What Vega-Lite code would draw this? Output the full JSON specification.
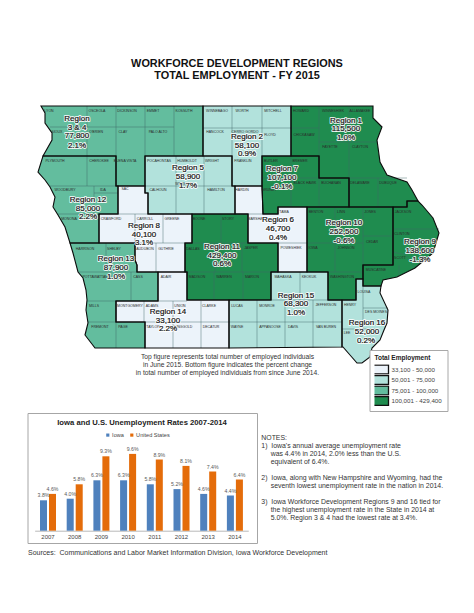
{
  "$schema": "https://vega.github.io/schema/vega-lite/v6.json",
  "width": 474,
  "height": 613,
  "padding": 0,
  "autosize": "none",
  "background": "white",
  "config": {"view": {"stroke": null}, "font": "Liberation Sans", "text": {"font": "Liberation Sans"}},
  "title": {"text": ["WORKFORCE DEVELOPMENT REGIONS", "TOTAL EMPLOYMENT - FY 2015"], "anchor": "start", "frame": "group", "dx": 237, "align": "center", "offset": -81, "font": "Liberation Sans", "fontSize": 10.9, "fontWeight": "bold", "color": "#111", "lineHeight": 12},
  "projection": {"type": "identity", "scale": 1, "translate": [0, 0]},
  "datasets": {
    "regions": [
      {"type": "Feature", "properties": {"region": "Region 3 & 4", "band": "75,001 - 100,000"}, "geometry": {"type": "Polygon", "coordinates": [[[41,106],[203,106],[203,156],[145,156],[145,186],[116,186],[116,156],[43,156],[52,140],[52,133],[45,123],[45,113],[41,106]]]}},
      {"type": "Feature", "properties": {"region": "Region 12", "band": "75,001 - 100,000"}, "geometry": {"type": "Polygon", "coordinates": [[[43,156],[116,156],[116,186],[118,186],[118,214],[99,214],[99,243],[70,243],[65,227],[58,215],[53,207],[55,197],[50,187],[45,180],[38,172],[43,156]]]}},
      {"type": "Feature", "properties": {"region": "Region 13", "band": "75,001 - 100,000"}, "geometry": {"type": "Polygon", "coordinates": [[[70,243],[135,243],[135,260],[137,265],[137,272],[158,272],[158,301],[116,301],[116,322],[145,322],[145,348],[95,348],[85,335],[88,323],[86,310],[87,300],[86,290],[83,278],[78,272],[73,253],[70,243]]]}},
      {"type": "Feature", "properties": {"region": "Region 2", "band": "50,001 - 75,000"}, "geometry": {"type": "Polygon", "coordinates": [[[203,106],[291,106],[291,156],[262,156],[262,186],[232,186],[232,156],[203,156],[203,106]]]}},
      {"type": "Feature", "properties": {"region": "Region 5", "band": "50,001 - 75,000"}, "geometry": {"type": "Polygon", "coordinates": [[[145,156],[232,156],[232,186],[235,186],[235,214],[148,214],[148,193],[145,193],[145,156]]]}},
      {"type": "Feature", "properties": {"region": "Region 15", "band": "50,001 - 75,000"}, "geometry": {"type": "Polygon", "coordinates": [[[271,272],[328,272],[328,300],[342,300],[342,347],[229,348],[229,300],[271,300],[271,272]]]}},
      {"type": "Feature", "properties": {"region": "Region 16", "band": "50,001 - 75,000"}, "geometry": {"type": "Polygon", "coordinates": [[[342,300],[356,300],[356,279],[363,279],[363,286],[381,286],[380,293],[388,310],[387,323],[384,330],[380,340],[372,348],[370,357],[362,363],[357,363],[350,355],[343,347],[342,347],[342,300]]]}},
      {"type": "Feature", "properties": {"region": "Region 6", "band": "33,100 - 50,000"}, "geometry": {"type": "Polygon", "coordinates": [[[235,186],[262,186],[263,214],[278,214],[278,207],[307,207],[307,272],[278,272],[278,243],[248,243],[248,214],[235,214],[235,186]]]}},
      {"type": "Feature", "properties": {"region": "Region 8", "band": "33,100 - 50,000"}, "geometry": {"type": "Polygon", "coordinates": [[[118,186],[145,186],[145,193],[148,193],[148,214],[192,214],[192,243],[185,243],[185,272],[137,272],[137,265],[135,260],[135,243],[99,243],[99,214],[118,214],[118,186]]]}},
      {"type": "Feature", "properties": {"region": "Region 14", "band": "33,100 - 50,000"}, "geometry": {"type": "Polygon", "coordinates": [[[158,272],[187,272],[187,300],[229,300],[229,348],[145,348],[145,322],[116,322],[116,301],[158,301],[158,272]]]}},
      {"type": "Feature", "properties": {"region": "Region 1", "band": "100,001 - 429,400"}, "geometry": {"type": "Polygon", "coordinates": [[[291,106],[373,106],[373,118],[382,127],[377,140],[380,162],[387,175],[407,182],[412,190],[418,201],[407,201],[407,207],[349,207],[349,178],[319,178],[319,156],[291,156],[291,106]]]}},
      {"type": "Feature", "properties": {"region": "Region 7", "band": "100,001 - 429,400"}, "geometry": {"type": "Polygon", "coordinates": [[[262,156],[319,156],[319,178],[349,178],[349,207],[278,207],[278,214],[263,214],[262,186],[262,156]]]}},
      {"type": "Feature", "properties": {"region": "Region 9", "band": "100,001 - 429,400"}, "geometry": {"type": "Polygon", "coordinates": [[[393,207],[407,207],[407,201],[418,201],[422,205],[433,218],[439,233],[433,253],[415,268],[397,277],[383,280],[381,286],[363,286],[363,265],[393,265],[393,207]]]}},
      {"type": "Feature", "properties": {"region": "Region 10", "band": "100,001 - 429,400"}, "geometry": {"type": "Polygon", "coordinates": [[[307,207],[393,207],[393,265],[363,265],[363,279],[356,279],[356,300],[328,300],[328,272],[307,272],[307,207]]]}},
      {"type": "Feature", "properties": {"region": "Region 11", "band": "100,001 - 429,400"}, "geometry": {"type": "Polygon", "coordinates": [[[192,214],[248,214],[248,243],[278,243],[278,272],[271,272],[271,300],[187,300],[187,272],[185,272],[185,243],[192,243],[192,214]]]}}
    ],
    "countyLines": [
      {"type": "Feature", "properties": {"region": "Region 3 & 4"}, "geometry": {"type": "MultiLineString", "coordinates": [[[87,106],[87,156]],[[116,106],[116,156]],[[145,106],[145,156]],[[174,106],[174,156]],[[50,127],[174,127]]]}},
      {"type": "Feature", "properties": {"region": "Region 12"}, "geometry": {"type": "MultiLineString", "coordinates": [[[87,156],[87,186]],[[50,186],[118,186]],[[94,186],[94,214]],[[94,193],[118,193]],[[58,214],[99,214]]]}},
      {"type": "Feature", "properties": {"region": "Region 13"}, "geometry": {"type": "MultiLineString", "coordinates": [[[106,243],[106,272]],[[78,272],[137,272]],[[131,272],[131,301]],[[87,301],[116,301]],[[88,322],[116,322]],[[116,301],[116,348]]]}},
      {"type": "Feature", "properties": {"region": "Region 2"}, "geometry": {"type": "MultiLineString", "coordinates": [[[232,106],[232,156]],[[262,106],[262,156]],[[203,128],[291,128]]]}},
      {"type": "Feature", "properties": {"region": "Region 5"}, "geometry": {"type": "MultiLineString", "coordinates": [[[176,156],[176,214]],[[204,156],[204,214]],[[145,186],[232,186]]]}},
      {"type": "Feature", "properties": {"region": "Region 15"}, "geometry": {"type": "MultiLineString", "coordinates": [[[300,272],[300,300]],[[257,300],[257,348]],[[285,300],[285,348]],[[313,300],[313,348]],[[229,322],[342,322]],[[271,300],[342,300]]]}},
      {"type": "Feature", "properties": {"region": "Region 16"}, "geometry": {"type": "MultiLineString", "coordinates": [[[363,286],[363,332]],[[363,308],[388,308]],[[342,329],[375,329]]]}},
      {"type": "Feature", "properties": {"region": "Region 6"}, "geometry": {"type": "MultiLineString", "coordinates": [[[235,214],[263,214]],[[278,243],[307,243]]]}},
      {"type": "Feature", "properties": {"region": "Region 8"}, "geometry": {"type": "MultiLineString", "coordinates": [[[135,214],[135,243]],[[163,214],[163,243]],[[156,243],[156,272]],[[135,243],[185,243]],[[118,214],[148,214]]]}},
      {"type": "Feature", "properties": {"region": "Region 14"}, "geometry": {"type": "MultiLineString", "coordinates": [[[144,301],[144,322]],[[173,301],[173,348]],[[201,301],[201,348]],[[145,322],[229,322]],[[158,301],[187,301]]]}},
      {"type": "Feature", "properties": {"region": "Region 1"}, "geometry": {"type": "MultiLineString", "coordinates": [[[319,106],[319,156]],[[349,106],[349,125]],[[291,128],[319,128]],[[319,142],[377,142]],[[349,142],[349,207]],[[349,178],[407,178]],[[378,178],[378,207]]]}},
      {"type": "Feature", "properties": {"region": "Region 7"}, "geometry": {"type": "MultiLineString", "coordinates": [[[291,156],[291,207]],[[263,178],[319,178]],[[319,178],[319,207]]]}},
      {"type": "Feature", "properties": {"region": "Region 9"}, "geometry": {"type": "MultiLineString", "coordinates": [[[393,229],[439,229]],[[393,252],[406,255],[415,268]],[[399,265],[399,275]]]}},
      {"type": "Feature", "properties": {"region": "Region 10"}, "geometry": {"type": "MultiLineString", "coordinates": [[[335,207],[335,272]],[[363,207],[363,265]],[[307,243],[363,243]],[[363,236],[393,236]],[[328,272],[363,272]]]}},
      {"type": "Feature", "properties": {"region": "Region 11"}, "geometry": {"type": "MultiLineString", "coordinates": [[[221,214],[221,243]],[[192,243],[248,243]],[[215,243],[215,272]],[[242,243],[242,272]],[[185,272],[278,272]],[[214,272],[214,300]],[[243,272],[243,300]]]}}
    ],
    "frame": [
      {"type": "Feature", "properties": {"name": "chart frame"}, "geometry": {"type": "Polygon", "coordinates": [[[28,413.5],[257.5,413.5],[257.5,543.5],[28,543.5],[28,413.5]]]}}
    ],
    "countyNames": [
      {"name": "LYON", "mapX": 49, "mapY": 111}, {"name": "OSCEOLA", "mapX": 97, "mapY": 111}, {"name": "DICKINSON", "mapX": 127, "mapY": 111}, {"name": "EMMET", "mapX": 153, "mapY": 111}, {"name": "KOSSUTH", "mapX": 184, "mapY": 111}, {"name": "WINNEBAGO", "mapX": 217, "mapY": 111},
      {"name": "WORTH", "mapX": 242, "mapY": 111}, {"name": "MITCHELL", "mapX": 273, "mapY": 111}, {"name": "HOWARD", "mapX": 301, "mapY": 111}, {"name": "WINNESHIEK", "mapX": 333, "mapY": 111}, {"name": "ALLAMAKEE", "mapX": 360, "mapY": 111},
      {"name": "SIOUX", "mapX": 57, "mapY": 132}, {"name": "O'BRIEN", "mapX": 96, "mapY": 132}, {"name": "CLAY", "mapX": 123, "mapY": 132}, {"name": "PALO ALTO", "mapX": 158, "mapY": 132}, {"name": "HANCOCK", "mapX": 215, "mapY": 132}, {"name": "CERRO GORDO", "mapX": 245, "mapY": 132},
      {"name": "FLOYD", "mapX": 270, "mapY": 135}, {"name": "CHICKASAW", "mapX": 304, "mapY": 135}, {"name": "FAYETTE", "mapX": 330, "mapY": 147}, {"name": "CLAYTON", "mapX": 360, "mapY": 147},
      {"name": "PLYMOUTH", "mapX": 55, "mapY": 161}, {"name": "CHEROKEE", "mapX": 99, "mapY": 161}, {"name": "BUENA VISTA", "mapX": 125, "mapY": 161}, {"name": "POCAHONTAS", "mapX": 159, "mapY": 161}, {"name": "HUMBOLDT", "mapX": 187, "mapY": 161}, {"name": "WRIGHT", "mapX": 212, "mapY": 161}, {"name": "FRANKLIN", "mapX": 243, "mapY": 161}, {"name": "BUTLER", "mapX": 271, "mapY": 161}, {"name": "BREMER", "mapX": 300, "mapY": 161},
      {"name": "BLACK HAWK", "mapX": 305, "mapY": 183}, {"name": "BUCHANAN", "mapX": 331, "mapY": 183}, {"name": "DELAWARE", "mapX": 360, "mapY": 183}, {"name": "DUBUQUE", "mapX": 388, "mapY": 183},
      {"name": "WOODBURY", "mapX": 65, "mapY": 190}, {"name": "IDA", "mapX": 103, "mapY": 190}, {"name": "SAC", "mapX": 125, "mapY": 189}, {"name": "CALHOUN", "mapX": 158, "mapY": 190}, {"name": "WEBSTER", "mapX": 184, "mapY": 184}, {"name": "HAMILTON", "mapX": 216, "mapY": 190}, {"name": "HARDIN", "mapX": 242, "mapY": 190}, {"name": "GRUNDY", "mapX": 269, "mapY": 190},
      {"name": "TAMA", "mapX": 284, "mapY": 212}, {"name": "BENTON", "mapX": 316, "mapY": 212}, {"name": "LINN", "mapX": 341, "mapY": 212}, {"name": "JONES", "mapX": 370, "mapY": 212}, {"name": "JACKSON", "mapX": 403, "mapY": 212},
      {"name": "MONONA", "mapX": 69, "mapY": 219}, {"name": "CRAWFORD", "mapX": 111, "mapY": 219}, {"name": "CARROLL", "mapX": 145, "mapY": 219}, {"name": "GREENE", "mapX": 172, "mapY": 219}, {"name": "BOONE", "mapX": 199, "mapY": 219}, {"name": "STORY", "mapX": 228, "mapY": 219}, {"name": "MARSHALL", "mapX": 257, "mapY": 219},
      {"name": "CLINTON", "mapX": 402, "mapY": 234}, {"name": "CEDAR", "mapX": 372, "mapY": 242},
      {"name": "HARRISON", "mapX": 85, "mapY": 249}, {"name": "SHELBY", "mapX": 114, "mapY": 249}, {"name": "AUDUBON", "mapX": 145, "mapY": 249}, {"name": "GUTHRIE", "mapX": 166, "mapY": 249}, {"name": "DALLAS", "mapX": 193, "mapY": 249}, {"name": "JASPER", "mapX": 251, "mapY": 248}, {"name": "POWESHIEK", "mapX": 291, "mapY": 248}, {"name": "IOWA", "mapX": 313, "mapY": 248}, {"name": "JOHNSON", "mapX": 346, "mapY": 248}, {"name": "SCOTT", "mapX": 400, "mapY": 258},
      {"name": "MUSCATINE", "mapX": 376, "mapY": 270},
      {"name": "POTTAWATTAMIE", "mapX": 97, "mapY": 277}, {"name": "CASS", "mapX": 138, "mapY": 277}, {"name": "ADAIR", "mapX": 166, "mapY": 277}, {"name": "MADISON", "mapX": 197, "mapY": 277}, {"name": "WARREN", "mapX": 224, "mapY": 277}, {"name": "MARION", "mapX": 252, "mapY": 277}, {"name": "MAHASKA", "mapX": 283, "mapY": 277}, {"name": "KEOKUK", "mapX": 309, "mapY": 277}, {"name": "WASHINGTON", "mapX": 342, "mapY": 277},
      {"name": "LOUISA", "mapX": 364, "mapY": 292},
      {"name": "MILLS", "mapX": 94, "mapY": 306}, {"name": "MONTGOMERY", "mapX": 130, "mapY": 306}, {"name": "ADAMS", "mapX": 152, "mapY": 306}, {"name": "UNION", "mapX": 180, "mapY": 306}, {"name": "CLARKE", "mapX": 209, "mapY": 306}, {"name": "LUCAS", "mapX": 237, "mapY": 306}, {"name": "MONROE", "mapX": 267, "mapY": 306}, {"name": "JEFFERSON", "mapX": 326, "mapY": 305}, {"name": "HENRY", "mapX": 350, "mapY": 305}, {"name": "DES MOINES", "mapX": 376, "mapY": 312},
      {"name": "FREMONT", "mapX": 100, "mapY": 327}, {"name": "PAGE", "mapX": 123, "mapY": 327}, {"name": "TAYLOR", "mapX": 153, "mapY": 327}, {"name": "RINGGOLD", "mapX": 183, "mapY": 327}, {"name": "DECATUR", "mapX": 211, "mapY": 327}, {"name": "WAYNE", "mapX": 237, "mapY": 327}, {"name": "APPANOOSE", "mapX": 270, "mapY": 327}, {"name": "DAVIS", "mapX": 293, "mapY": 327}, {"name": "VAN BUREN", "mapX": 326, "mapY": 327}, {"name": "LEE", "mapX": 347, "mapY": 333}
    ],
    "regionLabels": [
      {"label": "Region", "mapX": 77, "mapY": 119}, {"label": "3 & 4", "mapX": 77, "mapY": 127.5}, {"label": "77,800", "mapX": 77, "mapY": 136}, {"label": "2.1%", "mapX": 77, "mapY": 146},
      {"label": "Region 12", "mapX": 88, "mapY": 200}, {"label": "85,000", "mapX": 88, "mapY": 209}, {"label": "2.2%", "mapX": 88, "mapY": 217},
      {"label": "Region 5", "mapX": 188, "mapY": 168}, {"label": "58,900", "mapX": 188, "mapY": 177}, {"label": "1.7%", "mapX": 188, "mapY": 186},
      {"label": "Region 2", "mapX": 247, "mapY": 137}, {"label": "58,100", "mapX": 247, "mapY": 146}, {"label": "0.9%", "mapX": 247, "mapY": 154},
      {"label": "Region 1", "mapX": 346, "mapY": 121}, {"label": "115,500", "mapX": 346, "mapY": 129}, {"label": "1.0%", "mapX": 346, "mapY": 138},
      {"label": "Region 7", "mapX": 282, "mapY": 169}, {"label": "107,100", "mapX": 282, "mapY": 178}, {"label": "-0.1%", "mapX": 282, "mapY": 187},
      {"label": "Region 8", "mapX": 144, "mapY": 226}, {"label": "40,100", "mapX": 144, "mapY": 235}, {"label": "3.1%", "mapX": 144, "mapY": 243},
      {"label": "Region 6", "mapX": 278, "mapY": 220}, {"label": "46,700", "mapX": 278, "mapY": 229}, {"label": "0.4%", "mapX": 278, "mapY": 238},
      {"label": "Region 10", "mapX": 344, "mapY": 223}, {"label": "252,500", "mapX": 344, "mapY": 232}, {"label": "-0.6%", "mapX": 344, "mapY": 241},
      {"label": "Region 11", "mapX": 222, "mapY": 247}, {"label": "429,400", "mapX": 222, "mapY": 256}, {"label": "0.6%", "mapX": 222, "mapY": 264},
      {"label": "Region 9", "mapX": 420, "mapY": 242}, {"label": "138,600", "mapX": 420, "mapY": 251}, {"label": "-1.3%", "mapX": 420, "mapY": 260},
      {"label": "Region 13", "mapX": 116, "mapY": 259}, {"label": "87,900", "mapX": 116, "mapY": 268}, {"label": "1.0%", "mapX": 116, "mapY": 277},
      {"label": "Region 14", "mapX": 168, "mapY": 312}, {"label": "33,100", "mapX": 168, "mapY": 321}, {"label": "2.2%", "mapX": 168, "mapY": 329},
      {"label": "Region 15", "mapX": 296, "mapY": 296}, {"label": "68,300", "mapX": 296, "mapY": 304}, {"label": "1.0%", "mapX": 296, "mapY": 313},
      {"label": "Region 16", "mapX": 367, "mapY": 323}, {"label": "52,000", "mapX": 367, "mapY": 332}, {"label": "0.2%", "mapX": 366, "mapY": 341}
    ],
    "caption": [
      {"line": "Top figure represents total number of employed individuals", "mapX": 227.5, "mapY": 356.7},
      {"line": "in June 2015. Bottom figure indicates the percent change", "mapX": 227.5, "mapY": 365},
      {"line": "in total number of employed individuals from since June 2014.", "mapX": 227.5, "mapY": 373}
    ],
    "notes": [
      {"line": "NOTES:", "mapX": 261.3, "mapY": 437.7},
      {"line": "1)", "mapX": 261.3, "mapY": 445.7},
      {"line": "Iowa's annual average unemployment rate", "mapX": 271.3, "mapY": 445.7},
      {"line": "was 4.4% in 2014, 2.0% less than the U.S.", "mapX": 270.7, "mapY": 453.7},
      {"line": "equivalent of 6.4%.", "mapX": 270.7, "mapY": 461.7},
      {"line": "2)", "mapX": 261.3, "mapY": 477.7},
      {"line": "Iowa, along with New Hampshire and Wyoming, had the", "mapX": 271.3, "mapY": 477.7},
      {"line": "seventh lowest unemployment rate in the nation in 2014.", "mapX": 270.7, "mapY": 485.7},
      {"line": "3)", "mapX": 261.3, "mapY": 501.7},
      {"line": "Iowa Workforce Development Regions 9 and 16 tied for", "mapX": 271.3, "mapY": 501.7},
      {"line": "the highest unemployment rate in the State in 2014 at", "mapX": 270.7, "mapY": 509.7},
      {"line": "5.0%. Region 3 & 4 had the lowest rate at 3.4%.", "mapX": 270.7, "mapY": 517.7}
    ],
    "sources": [
      {"line": "Sources:\u00a0 Communications and Labor Market Information Division, Iowa Workforce Development", "mapX": 28, "mapY": 553}
    ],
    "chartTitle": [
      {"line": "Iowa and U.S. Unemployment Rates 2007-2014", "mapX": 142, "mapY": 422.7}
    ],
    "rates": [
      {"year": "2007", "series": "Iowa", "rate": 3.8, "label": "3.8%"}, {"year": "2007", "series": "United States", "rate": 4.6, "label": "4.6%"},
      {"year": "2008", "series": "Iowa", "rate": 4.0, "label": "4.0%"}, {"year": "2008", "series": "United States", "rate": 5.8, "label": "5.8%"},
      {"year": "2009", "series": "Iowa", "rate": 6.3, "label": "6.3%"}, {"year": "2009", "series": "United States", "rate": 9.3, "label": "9.3%"},
      {"year": "2010", "series": "Iowa", "rate": 6.3, "label": "6.3%"}, {"year": "2010", "series": "United States", "rate": 9.6, "label": "9.6%"},
      {"year": "2011", "series": "Iowa", "rate": 5.8, "label": "5.8%"}, {"year": "2011", "series": "United States", "rate": 8.9, "label": "8.9%"},
      {"year": "2012", "series": "Iowa", "rate": 5.2, "label": "5.2%"}, {"year": "2012", "series": "United States", "rate": 8.1, "label": "8.1%"},
      {"year": "2013", "series": "Iowa", "rate": 4.6, "label": "4.6%"}, {"year": "2013", "series": "United States", "rate": 7.4, "label": "7.4%"},
      {"year": "2014", "series": "Iowa", "rate": 4.4, "label": "4.4%"}, {"year": "2014", "series": "United States", "rate": 6.4, "label": "6.4%"}
    ]
  },
  "layer": [
    {
      "data": {"name": "regions"},
      "mark": {"type": "geoshape", "strokeWidth": 0},
      "encoding": {
        "fill": {
          "field": "properties.band",
          "type": "nominal",
          "scale": {"domain": ["33,100 - 50,000", "50,001 - 75,000", "75,001 - 100,000", "100,001 - 429,400"], "range": ["#ecf3fa", "#b2e2dc", "#63bd9e", "#1f8c4f"]},
          "legend": {"title": "Total Employment", "orient": "none", "legendX": 369.5, "legendY": 350, "padding": 5, "strokeColor": "#a8a8a8", "fillColor": "white", "titleFont": "Liberation Sans", "titleFontSize": 6.5, "titleFontWeight": "bold", "titleColor": "#222", "titlePadding": 3, "labelFont": "Liberation Sans", "labelFontSize": 6.2, "labelColor": "#444", "labelOffset": 5, "rowPadding": 0.5, "clipHeight": 10, "symbolType": "M-1.6,-0.9H1.6V0.9H-1.6Z", "symbolSize": 100, "symbolStrokeColor": "#111", "symbolStrokeWidth": 1.3}
        }
      }
    },
    {
      "data": {"name": "countyLines"},
      "mark": {"type": "geoshape", "filled": false, "stroke": "#3f6a66", "strokeWidth": 0.6, "strokeOpacity": 0.75}
    },
    {
      "data": {"name": "regions"},
      "mark": {"type": "geoshape", "filled": false, "stroke": "#0c0c0c", "strokeWidth": 1.1}
    },
    {
      "data": {"name": "countyNames"},
      "mark": {"type": "text", "fontSize": 3.5, "color": "#2b2b2b", "font": "Liberation Sans"},
      "encoding": {"longitude": {"field": "mapX", "type": "quantitative"}, "latitude": {"field": "mapY", "type": "quantitative"}, "text": {"field": "name"}}
    },
    {
      "data": {"name": "regionLabels"},
      "mark": {"type": "text", "fontSize": 8, "font": "Liberation Sans", "fill": "white", "stroke": "white", "strokeWidth": 2, "strokeOpacity": 0.85, "strokeJoin": "round"},
      "encoding": {"longitude": {"field": "mapX", "type": "quantitative"}, "latitude": {"field": "mapY", "type": "quantitative"}, "text": {"field": "label"}}
    },
    {
      "data": {"name": "regionLabels"},
      "mark": {"type": "text", "fontSize": 8, "font": "Liberation Sans", "fill": "#111", "stroke": "#111", "strokeWidth": 0.2},
      "encoding": {"longitude": {"field": "mapX", "type": "quantitative"}, "latitude": {"field": "mapY", "type": "quantitative"}, "text": {"field": "label"}}
    },
    {
      "data": {"name": "caption"},
      "mark": {"type": "text", "fontSize": 6.7, "font": "Liberation Sans", "color": "#333", "align": "center"},
      "encoding": {"longitude": {"field": "mapX", "type": "quantitative"}, "latitude": {"field": "mapY", "type": "quantitative"}, "text": {"field": "line"}}
    },
    {
      "data": {"name": "notes"},
      "mark": {"type": "text", "fontSize": 6.9, "font": "Liberation Sans", "color": "#333", "align": "left"},
      "encoding": {"longitude": {"field": "mapX", "type": "quantitative"}, "latitude": {"field": "mapY", "type": "quantitative"}, "text": {"field": "line"}}
    },
    {
      "data": {"name": "sources"},
      "mark": {"type": "text", "fontSize": 7, "font": "Liberation Sans", "color": "#333", "align": "left"},
      "encoding": {"longitude": {"field": "mapX", "type": "quantitative"}, "latitude": {"field": "mapY", "type": "quantitative"}, "text": {"field": "line"}}
    },
    {
      "data": {"name": "frame"},
      "mark": {"type": "geoshape", "filled": false, "stroke": "#a6a6a6", "strokeWidth": 1}
    },
    {
      "data": {"name": "chartTitle"},
      "mark": {"type": "text", "fontSize": 7.7, "font": "Liberation Sans", "fontWeight": "bold", "color": "#222", "align": "center"},
      "encoding": {"longitude": {"field": "mapX", "type": "quantitative"}, "latitude": {"field": "mapY", "type": "quantitative"}, "text": {"field": "line"}}
    },
    {
      "data": {"name": "rates"},
      "mark": {"type": "bar"},
      "encoding": {
        "x": {"field": "year", "type": "ordinal", "scale": {"range": [34.65, 248.25], "paddingInner": 0.4, "paddingOuter": 0.2}, "axis": {"title": null, "orient": "bottom", "offset": -82.3, "grid": false, "ticks": false, "labelAngle": 0, "labelFont": "Liberation Sans", "labelFontSize": 6, "labelColor": "#444", "labelPadding": 3, "domainColor": "#a6a6a6", "domainWidth": 0.8}},
        "xOffset": {"field": "series", "type": "nominal", "scale": {"domain": ["Iowa", "United States"], "paddingInner": 0.22}},
        "y": {"field": "rate", "type": "quantitative", "scale": {"domain": [0, 10], "range": [530.7, 450.7], "nice": false}, "axis": null},
        "color": {"field": "series", "type": "nominal", "scale": {"domain": ["Iowa", "United States"], "range": ["#4f81bd", "#e46c0a"]}, "legend": {"title": null, "orient": "none", "legendX": 105, "legendY": 432, "direction": "horizontal", "symbolType": "square", "symbolSize": 10, "labelFont": "Liberation Sans", "labelFontSize": 5.6, "labelColor": "#444", "labelOffset": 1.5, "columnPadding": 5}}
      }
    },
    {
      "data": {"name": "rates"},
      "mark": {"type": "text", "fontSize": 5.2, "font": "Liberation Sans", "color": "#595959", "dy": -5},
      "encoding": {
        "x": {"field": "year", "type": "ordinal"},
        "xOffset": {"field": "series", "type": "nominal"},
        "y": {"field": "rate", "type": "quantitative"},
        "text": {"field": "label"}
      }
    }
  ]
}
